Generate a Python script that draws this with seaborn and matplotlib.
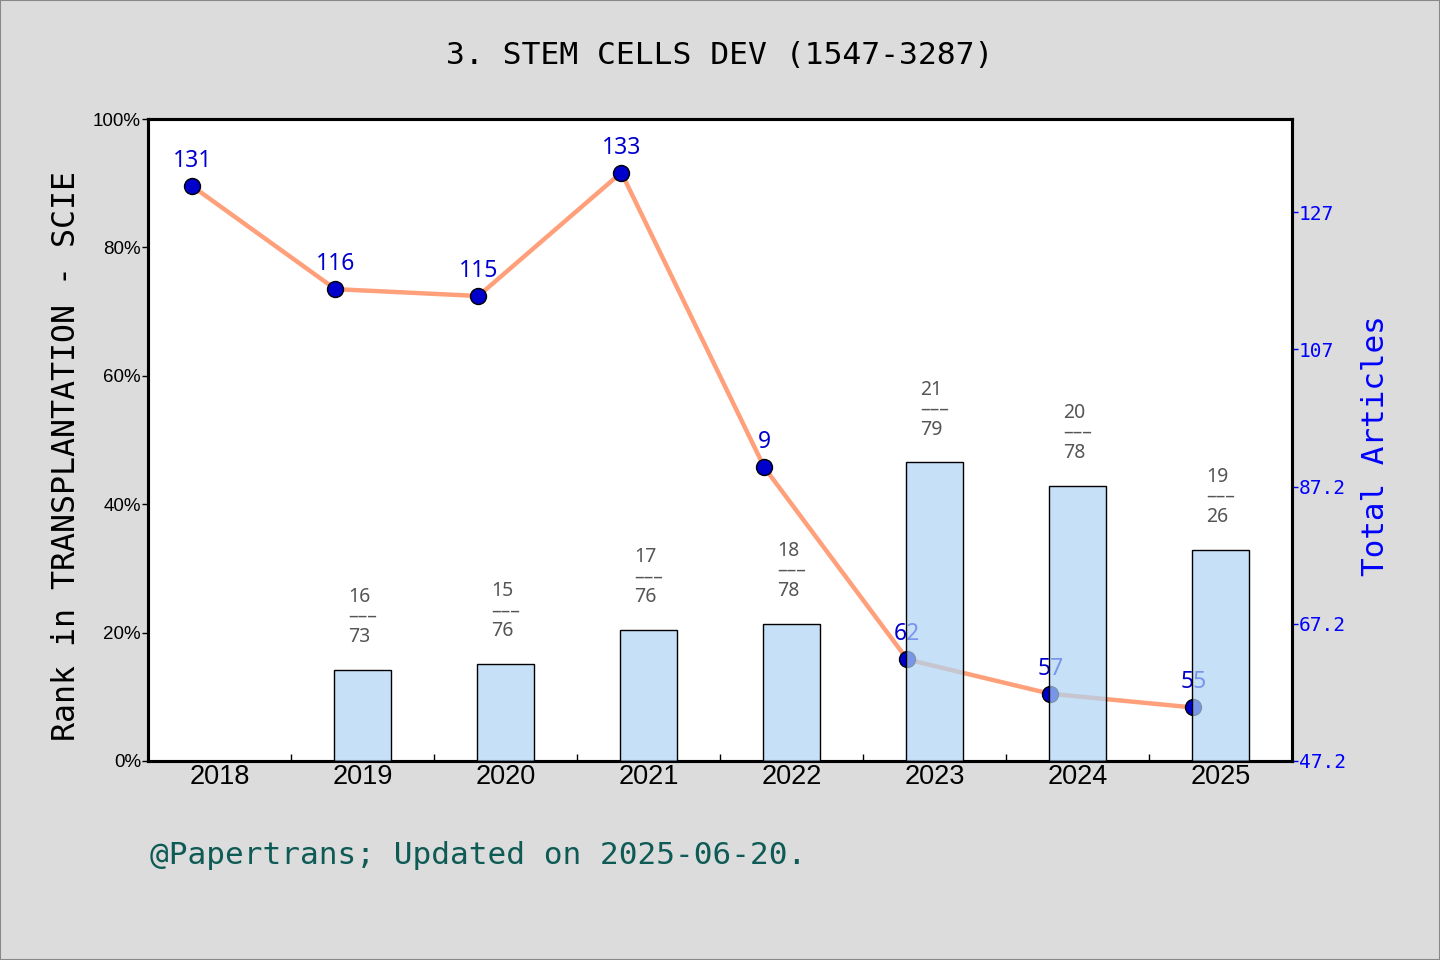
import numpy as np
import pandas as pd
import matplotlib
matplotlib.use("Agg")
import matplotlib.pyplot as plt
from matplotlib.ticker import FixedLocator
import seaborn as sns

years = ["2018", "2019", "2020", "2021", "2022", "2023", "2024", "2025"]
# rank position as percent of category (bars, left axis)
rank_pct = [np.nan, 14.2, 15.1, 20.4, 21.4, 46.5, 42.9, 32.9]
rank_top = ["", "16", "15", "17", "18", "21", "20", "19"]
rank_bottom = ["", "73", "76", "76", "78", "79", "78", "26"]
# total articles (line, right axis)
articles = [131, 116, 115, 133, 90, 62, 57, 55]
article_txt = ["131", "116", "115", "133", "9", "62", "57", "55"]
right_ticks = [47.2, 67.2, 87.2, 107.2, 127.2]
right_ticklabels = ["47.2", "67.2", "87.2", "107", "127"]

sns.set_style("ticks")
plt.rcParams["font.family"] = ["Liberation Sans", "DejaVu Sans"]
plt.rcParams["text.color"] = "black"
plt.rcParams["xtick.color"] = "black"
plt.rcParams["ytick.color"] = "black"
MONO = ["DejaVu Sans Mono"]
SANS = ["Noto Sans", "DejaVu Sans"]

fig = plt.figure(figsize=(14.4, 9.6), dpi=100, facecolor="#dcdcdc")
ax = fig.add_axes([0.1028, 0.2073, 0.7944, 0.6687])
ax2 = ax.twinx()

# line on the right axis, drawn below the bars
xpos = np.arange(len(years)) - 0.19
sns.lineplot(x=xpos, y=articles, ax=ax2, color="#ffa07a", linewidth=3.2,
             marker="o", markersize=11.5, markerfacecolor="#0000cd",
             markeredgecolor="black", markeredgewidth=1, zorder=2)
for x, y, t in zip(xpos, articles, article_txt):
    ax2.annotate(t, (x, y), xytext=(0, 18), textcoords="offset points",
                 ha="center", va="center", fontsize=16.5, color="#0000cd",
                 family=SANS)
ax2.set_ylim(47.2, 140.8)
ax2.yaxis.set_major_locator(FixedLocator(right_ticks))
ax2.set_yticklabels(right_ticklabels, family=MONO, fontsize=14, color="#0000ff")
ax2.tick_params(axis="y", direction="out", length=4, width=1, color="#0000ff", pad=1)
ax2.set_ylabel("")
fig.text(0.955, 0.536, "Total Articles", rotation=90, ha="center", va="center",
         fontsize=22.3, color="#0000ff", family=MONO)

# bars on the left axis, drawn on top of the line
df = pd.DataFrame({"year": years, "rank": rank_pct})
sns.barplot(data=df, x="year", y="rank", ax=ax, width=0.4,
            color=(174 / 255, 213 / 255, 245 / 255, 0.7), saturation=1,
            edgecolor="black", linewidth=1, zorder=3)
for p in ax.patches:
    p.set_edgecolor("black")
for i, v in enumerate(rank_pct):
    if rank_top[i]:
        ax.annotate(rank_top[i] + "\n–––\n" + rank_bottom[i], (i, v),
                    xytext=(0, 38), textcoords="offset points",
                    ha="center", va="center", multialignment="left",
                    fontsize=14, color="#555555", linespacing=1.0, family=SANS)

ax.set_zorder(ax2.get_zorder() + 1)
ax.patch.set_visible(False)
ax2.patch.set_visible(True)
ax2.patch.set_facecolor("white")

ax.set_xlim(-0.5, 7.5)
ax.set_ylim(0, 100)
ax.set_yticks([0, 20, 40, 60, 80, 100])
ax.set_yticklabels([f"{v}%" for v in range(0, 101, 20)], fontsize=13.5, color="black")
ax.tick_params(axis="y", direction="out", length=4, width=1, pad=1)
ax.set_xticks(range(len(years)))
ax.set_xticklabels(years, fontsize=19.5, color="black")
ax.tick_params(axis="x", length=0, pad=2)
ax.set_xticks(np.arange(0.5, 7.5, 1), minor=True)
ax.tick_params(axis="x", which="minor", direction="in", length=5, width=1)
ax.set_xlabel("")
ax.set_ylabel("")

for a in (ax, ax2):
    for s in a.spines.values():
        s.set_linewidth(2.2)
        s.set_color("black")

fig.text(0.0465, 0.525, "Rank in TRANSPLANTATION - SCIE", rotation=90,
         ha="center", va="center", fontsize=22.8, family=MONO, color="black")
fig.text(0.5, 0.9417, "3. STEM CELLS DEV (1547-3287)", ha="center", va="center",
         fontsize=22.6, family=MONO, color="black")
fig.text(0.104, 0.109, "@Papertrans; Updated on 2025-06-20.", ha="left",
         va="center", fontsize=22.4, family=MONO, color="#0e5a55")

fig.patches.append(plt.Rectangle((0, 0), 1, 1, transform=fig.transFigure,
                                 fill=False, edgecolor="#888888", linewidth=1.5))

fig.savefig("out.png", dpi=100, facecolor=fig.get_facecolor())
